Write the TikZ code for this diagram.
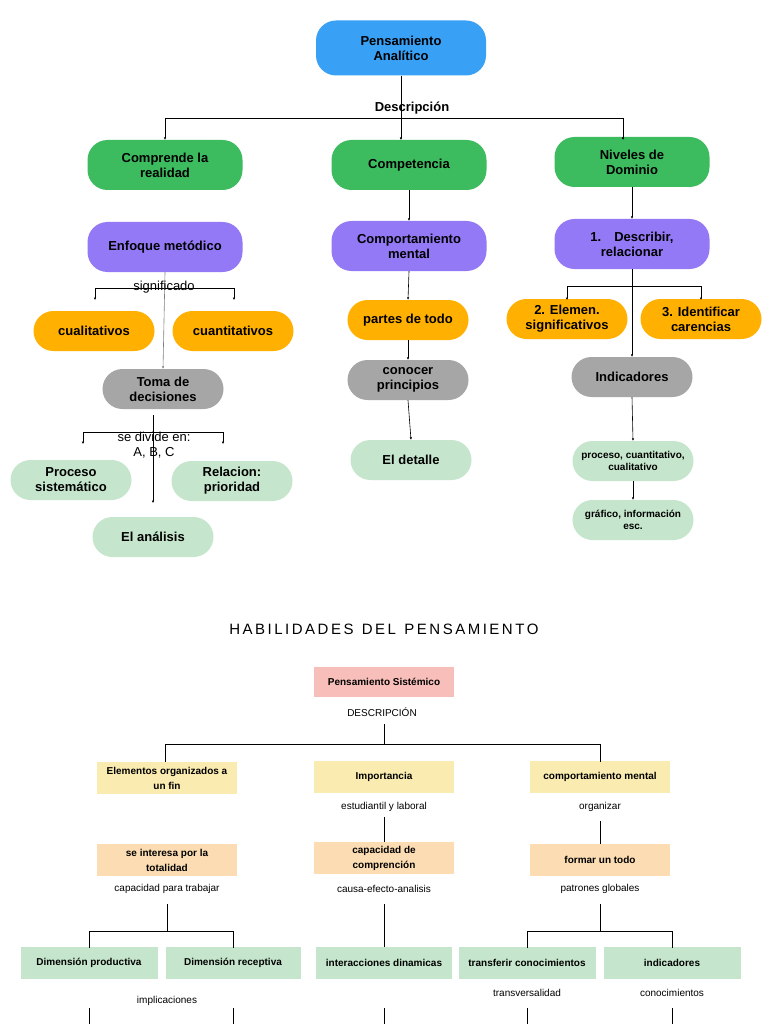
\documentclass[tikz,border=0pt]{standalone}
\usepackage{fontspec}
\setmainfont{Liberation Sans}
\usetikzlibrary{arrows.meta}
\definecolor{cblue}{HTML}{38A0F5}
\definecolor{cgreen}{HTML}{3DBB5F}
\definecolor{cpurp}{HTML}{9379F6}
\definecolor{corange}{HTML}{FFB000}
\definecolor{cgray}{HTML}{A6A6A6}
\definecolor{clight}{HTML}{C5E6CC}
\definecolor{cpink}{HTML}{F8BFBA}
\definecolor{cyel}{HTML}{FAEBB0}
\definecolor{cpeach}{HTML}{FCDDB3}
\tikzset{
 pill/.style={rounded corners=20pt,minimum height=#1,align=center,inner sep=2pt,font=\fontsize{13}{15}\selectfont\bfseries},
 big/.style={pill=50pt,minimum width=155pt},
 small/.style={pill=40pt,minimum width=121pt},
 box/.style={minimum height=32pt,align=center,inner sep=2pt,font=\fontsize{10}{15}\selectfont\bfseries},
 lbl/.style={font=\fontsize{10}{12}\selectfont,align=center},
 con/.style={line width=0.6pt,-{Latex[length=2.5pt,width=2.5pt]}},
 ln/.style={line width=0.8pt}
}
\begin{document}
\begin{tikzpicture}[x=1pt,y=-1pt]
\useasboundingbox (0,0) rectangle (768,1024);
\fill[white] (0,0) rectangle (768,1024);
% top
\node[pill=55pt,minimum width=170pt,fill=cblue] (pa) at (401,48) {Pensamiento\\Analítico};
\node[font=\fontsize{13}{15}\selectfont\bfseries] (desc) at (412,108) {Descripción};
\node[big,fill=cgreen] (cr) at (165,165) {Comprende la\\realidad};
\node[big,fill=cgreen] (co) at (409,165) {Competencia};
\node[big,fill=cgreen] (nd) at (632,162) {Niveles de\\Dominio};
\node[big,fill=cpurp] (em) at (165,247) {Enfoque metódico};
\node[big,fill=cpurp] (cm) at (409,246) {Comportamiento\\mental};
\node[big,fill=cpurp] (dr) at (632,244) {1.\quad Describir,\\relacionar};
\node[small,fill=corange] (cual) at (94,331) {cualitativos};
\node[small,fill=corange] (cuan) at (233,331) {cuantitativos};
\node[small,fill=corange] (pt) at (408,320) {partes de todo};
\node[small,fill=corange] (es) at (567,319) {2. Elemen.\\significativos};
\node[small,fill=corange] (ic) at (701,319) {3. Identificar\\carencias};
\node[small,fill=cgray] (td) at (163,389) {Toma de\\decisiones};
\node[small,fill=cgray] (cp) at (408,380) {conocer\\principios};
\node[small,fill=cgray] (ind) at (632,377) {Indicadores};
\node[small,fill=clight] (ps) at (71,480) {Proceso\\sistemático};
\node[small,fill=clight] (rp) at (232,481) {Relacion:\\prioridad};
\node[small,fill=clight] (ea) at (153,537) {El análisis};
\node[small,fill=clight] (ed) at (411,460) {El detalle};
\node[small,fill=clight,font=\fontsize{10}{12}\selectfont\bfseries] (pcc) at (633,461) {proceso, cuantitativo,\\cualitativo};
\node[small,fill=clight,font=\fontsize{10}{12}\selectfont\bfseries] (gi) at (633,520) {gráfico, información\\esc.};
% top connectors
\draw[con] (pa.south) -- (401,140);
\draw[ln] (165,118) -- (623,118);
\draw[con] (165,118) -- (cr.north);
\draw[con] (623,118) -- (623,140);
\draw[con] (co.south) -- (cm.north);
\draw[con] (nd.south) -- (dr.north);
\draw[ln] (95,288) -- (234,288);
\draw[con] (95,288) -- (95,300);
\draw[con] (234,288) -- (234,300);
\draw[con,gray] (em.south) -- (td.north);
\node[font=\fontsize{13}{15}\selectfont] (sig) at (164,287) {significado};
\draw[ln] (83,432) -- (223,432);
\draw[con] (83,432) -- (83,444);
\draw[con] (223,432) -- (223,444);
\draw[con] (153,415) -- (153,503);
\node[font=\fontsize{13}{15}\selectfont,align=center] (sd) at (154,445) {se divide en:\\A, B, C};
\draw[con] (cm.south) -- (pt.north);
\draw[con] (pt.south) -- (cp.north);
\draw[con] (cp.south) -- (ed.north);
\draw[ln] (567,286) -- (701,286);
\draw[con] (567,286) -- (567,300);
\draw[con] (701,286) -- (701,300);
\draw[con] (dr.south) -- (ind.north);
\draw[con] (ind.south) -- (pcc.north);
\draw[con] (pcc.south) -- (gi.north);
% title
\node[font=\fontsize{15}{17}\selectfont] (tit) at (384,629) {H\,A\,B\,I\,L\,I\,D\,A\,D\,E\,S\ \ D\,E\,L\ \ P\,E\,N\,S\,A\,M\,I\,E\,N\,T\,O};
% bottom
\node[box,fill=cpink,minimum width=140pt,minimum height=30pt] (ps2) at (384,682) {Pensamiento Sistémico};
\node[lbl] (d2) at (382,712) {DESCRIPCIÓN};
\node[box,fill=cyel,minimum width=140pt] (eo) at (167,778) {Elementos organizados a\\un fin};
\node[box,fill=cyel,minimum width=140pt] (im) at (384,777) {Importancia};
\node[box,fill=cyel,minimum width=140pt] (cm2) at (600,777) {comportamiento mental};
\node[lbl] (el) at (384,807) {estudiantil y laboral};
\node[lbl] (org) at (600,807) {organizar};
\node[box,fill=cpeach,minimum width=140pt] (si) at (167,860) {se interesa por la\\totalidad};
\node[box,fill=cpeach,minimum width=140pt] (cc) at (384,858) {capacidad de\\comprención};
\node[box,fill=cpeach,minimum width=140pt] (ft) at (600,860) {formar un todo};
\node[lbl] (ct) at (167,889) {capacidad para trabajar};
\node[lbl] (ce) at (384,889) {causa-efecto-analisis};
\node[lbl] (pg) at (600,889) {patrones globales};
\node[box,fill=clight,minimum width=137pt] (dp) at (89,963) {Dimensión productiva};
\node[box,fill=clight,minimum width=135pt] (drc) at (233,963) {Dimensión receptiva};
\node[box,fill=clight,minimum width=136pt] (id) at (384,963) {interacciones dinamicas};
\node[box,fill=clight,minimum width=137pt] (tc) at (527,963) {transferir conocimientos};
\node[box,fill=clight,minimum width=137pt] (in2) at (672,963) {indicadores};
\node[lbl] (imp) at (167,1001) {implicaciones};
\node[lbl] (tv) at (527,993) {transversalidad};
\node[lbl] (cn) at (672,993) {conocimientos};
\draw[ln] (384,724) -- (384,744);
\draw[ln] (165,762) -- (165,744) -- (600,744) -- (600,762);
\draw[ln] (384,817) -- (384,842);
\draw[ln] (600,821) -- (600,844);
\draw[ln] (167,904) -- (167,931);
\draw[ln] (89,948) -- (89,931) -- (233,931) -- (233,948);
\draw[ln] (384,904) -- (id.north);
\draw[ln] (600,904) -- (600,931);
\draw[ln] (527,948) -- (527,931) -- (672,931) -- (672,948);
\foreach \x in {89,233,384,527,672} \draw[ln] (\x,1008) -- (\x,1024);
\end{tikzpicture}
\end{document}
